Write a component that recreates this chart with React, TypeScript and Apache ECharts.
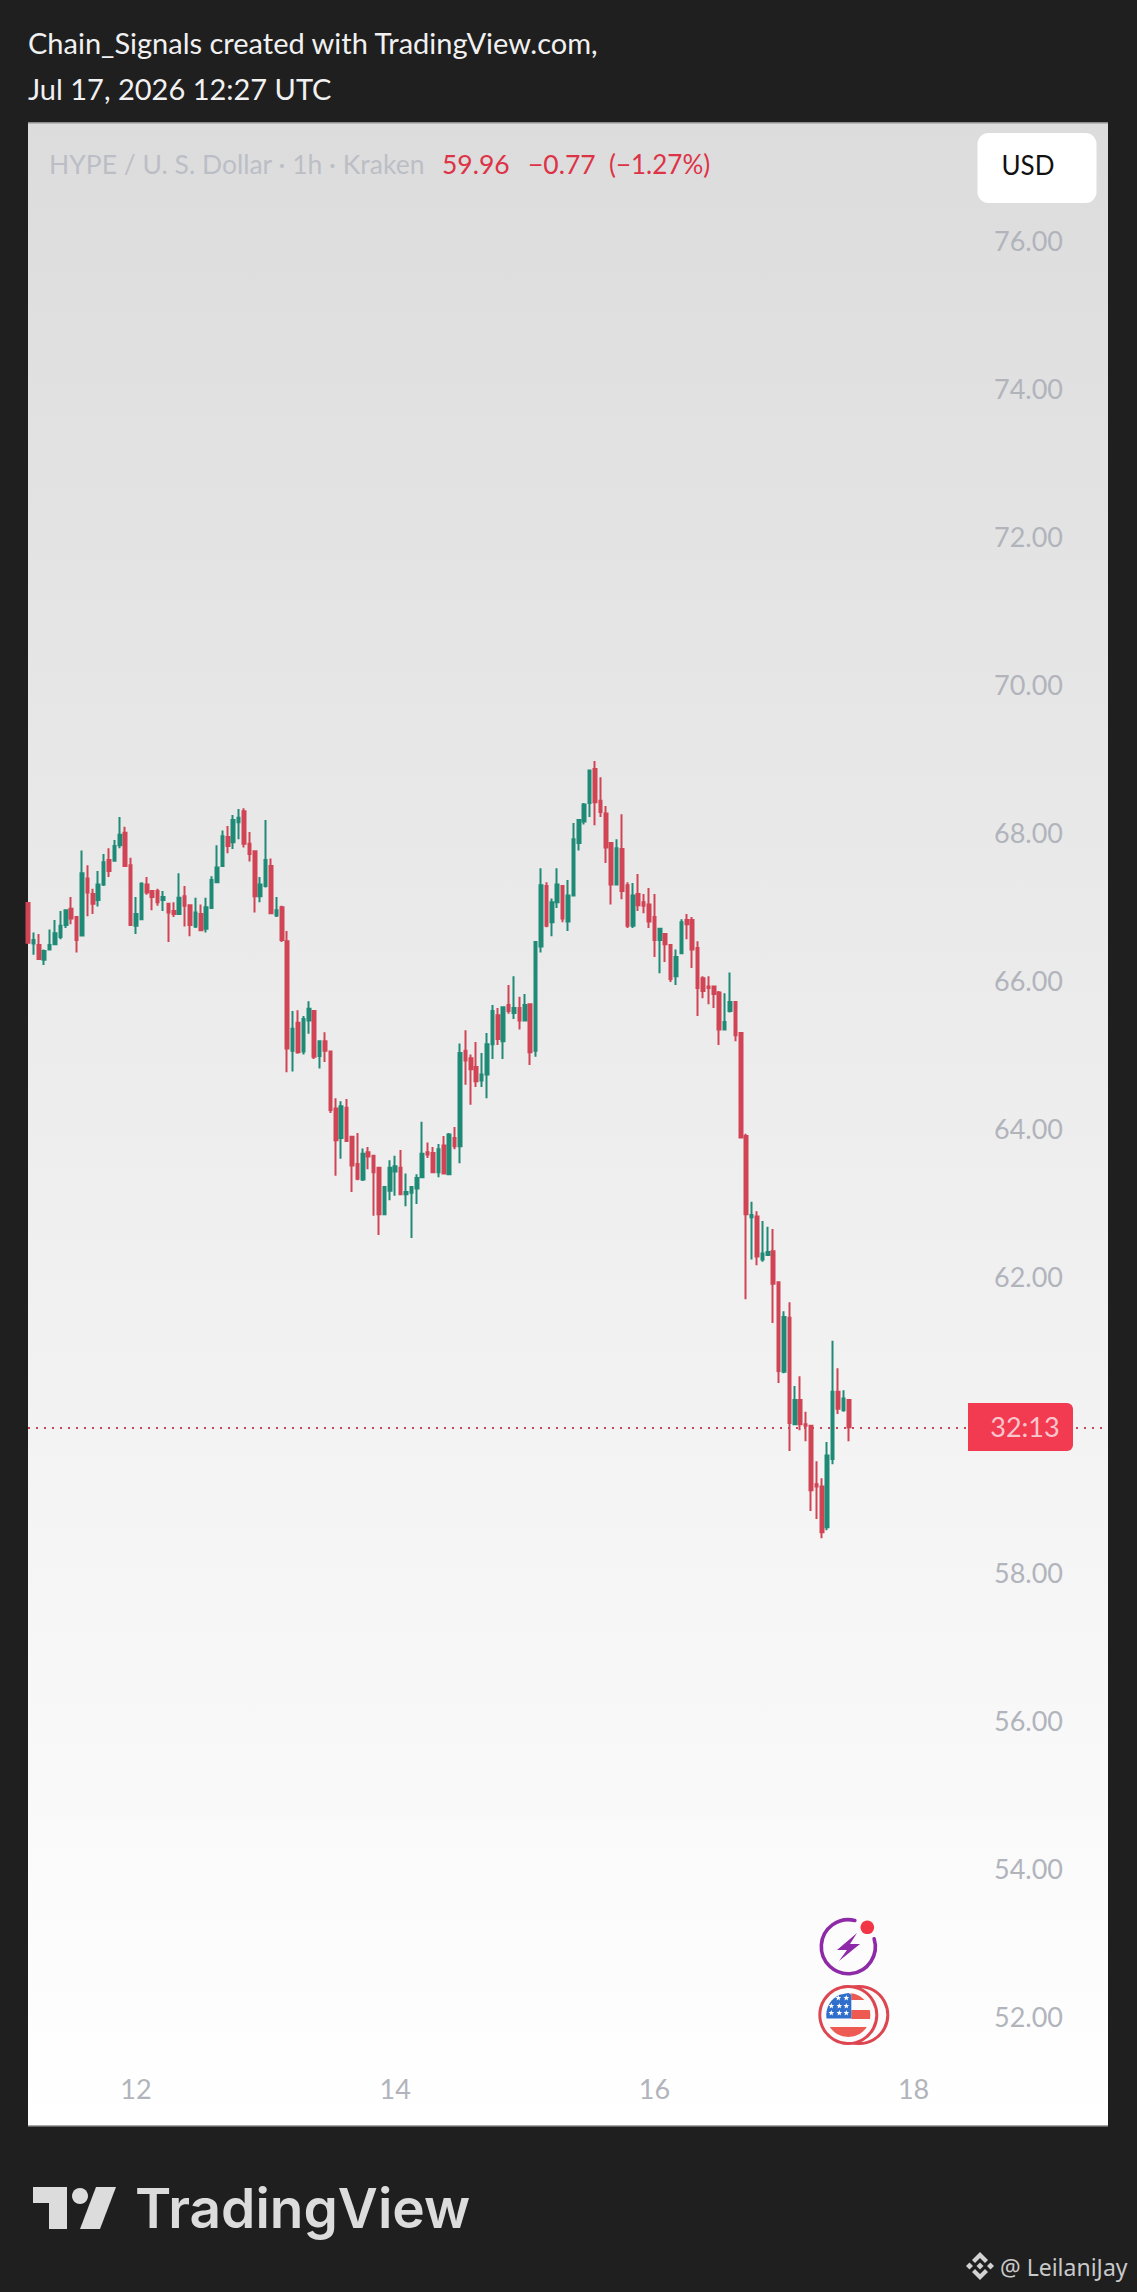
import React, { useEffect, useRef } from "react";
import * as echarts from "echarts";

const titleLines = ["Chain_Signals created with TradingView.com,", "Jul 17, 2026 12:27 UTC"];
const symbolText = "HYPE / U. S. Dollar · 1h · Kraken";
const lastPrice = 59.96;
const lastPriceText = "59.96";
const changeText = "−0.77";
const changePctText = "(−1.27%)";
const countdownText = "32:13";
const currencyText = "USD";
const brandText = "TradingView";
const creditText = "@ LeilaniJay";

const yMin = 50;
const yMax = 78;
const yStep = 2;
const slotCount = 201;
const dayTicks: Record<number, string> = { 20: "12", 68: "14", 116: "16", 164: "18" };

// open, close, low, high — hourly candles
const candles: number[][] = [
  [67.05,66.51,66.51,67.05],[66.50,66.55,66.35,66.65],[66.48,66.29,66.29,66.63],[66.28,66.40,66.21,66.42],
  [66.42,66.48,66.42,66.69],[66.49,66.64,66.49,66.82],[66.59,66.74,66.56,66.94],[66.75,66.95,66.71,66.95],
  [66.97,66.84,66.76,67.13],[66.86,66.55,66.38,66.87],[66.61,67.45,66.61,67.76],[67.38,67.19,66.87,67.56],
  [67.17,67.04,66.90,67.24],[67.09,67.30,67.00,67.48],[67.30,67.60,67.28,67.71],[67.63,67.48,67.40,67.79],
  [67.62,67.82,67.61,67.90],[67.83,67.97,67.79,68.21],[68.00,67.55,67.55,68.08],[67.56,66.75,66.75,67.66],
  [66.74,66.90,66.63,67.13],[66.83,67.31,66.83,67.33],[67.30,67.19,67.16,67.40],[67.21,67.13,66.95,67.21],
  [67.21,67.06,67.01,67.24],[67.09,67.13,66.94,67.21],[67.04,66.92,66.52,67.05],[66.94,66.90,66.86,67.06],
  [66.90,67.12,66.90,67.45],[67.14,67.01,66.73,67.28],[67.02,66.75,66.60,67.03],[66.73,66.92,66.71,67.12],
  [66.90,66.68,66.68,67.03],[66.70,66.99,66.65,67.12],[66.98,67.36,66.98,67.41],[67.33,67.53,67.33,67.83],
  [67.55,67.95,67.55,68.03],[67.94,67.82,67.72,68.09],[67.87,68.17,67.78,68.24],[68.14,68.20,67.91,68.32],
  [68.29,67.85,67.80,68.33],[67.85,67.71,67.61,68.01],[67.75,67.14,66.92,67.76],[67.14,67.30,67.06,67.40],
  [67.28,67.63,67.26,68.17],[67.55,66.91,66.91,67.65],[66.88,66.95,66.86,67.13],[66.99,66.55,66.52,67.01],
  [66.53,65.08,64.76,66.67],[65.05,65.35,64.77,65.59],[65.43,65.03,65.01,65.60],[65.04,65.48,65.00,65.52],
  [65.46,65.62,65.28,65.72],[65.59,64.97,64.94,65.59],[64.98,65.18,64.81,65.18],[65.18,65.05,64.90,65.30],
  [65.04,64.25,64.21,65.05],[64.27,63.84,63.36,64.41],[63.87,64.30,63.59,64.37],[64.28,63.83,63.83,64.40],
  [63.89,63.50,63.14,63.90],[63.52,63.32,63.30,63.94],[63.31,63.66,63.29,63.73],[63.68,63.62,63.45,63.75],
  [63.63,63.41,62.82,63.64],[63.47,62.84,62.56,63.48],[62.84,63.21,62.84,63.21],[63.16,63.47,63.03,63.57],
  [63.42,63.49,63.09,63.63],[63.47,63.11,63.11,63.71],[63.11,63.14,62.95,63.39],[63.13,63.21,62.52,63.22],
  [63.19,63.33,62.98,63.38],[63.34,63.66,63.34,64.09],[63.68,63.65,63.60,63.81],[63.67,63.41,63.41,63.75],
  [63.41,63.72,63.34,63.79],[63.77,63.39,63.39,63.90],[63.38,63.92,63.38,63.94],[63.87,63.76,63.72,64.02],
  [63.76,65.02,63.53,65.15],[65.05,64.92,64.59,65.33],[64.95,64.80,64.32,65.00],[64.83,64.64,64.56,65.17],
  [64.65,64.73,64.56,65.02],[64.73,65.14,64.41,65.29],[65.14,65.59,64.94,65.67],[65.53,65.21,65.13,65.63],
  [65.18,65.64,64.94,65.64],[65.67,65.59,65.55,65.94],[65.56,65.63,65.48,66.06],[65.63,65.46,65.34,65.78],
  [65.46,65.67,65.46,65.82],[65.68,65.03,64.86,65.68],[65.05,66.52,64.97,66.52],[66.46,67.29,66.38,67.52],
  [67.28,66.74,66.72,67.33],[66.79,67.06,66.60,67.11],[67.06,67.30,66.98,67.52],[67.28,66.84,66.79,67.29],
  [66.80,67.15,66.67,67.36],[67.15,67.91,67.15,68.13],[67.86,68.17,67.76,68.17],[68.15,68.38,68.11,68.40],
  [68.40,68.84,68.21,68.84],[68.86,68.41,68.10,68.97],[68.43,68.28,68.21,68.75],[68.26,67.80,67.59,68.36],
  [67.86,67.30,67.03,67.86],[67.30,67.79,67.30,67.91],[67.78,67.21,67.10,68.25],[67.29,66.74,66.71,67.33],
  [66.74,67.15,66.71,67.32],[67.17,67.02,66.94,67.44],[67.06,67.01,66.91,67.17],[67.03,66.80,66.71,67.25],
  [66.86,66.55,66.32,67.17],[66.55,66.70,66.10,66.71],[66.63,66.49,66.25,66.63],[66.48,66.02,65.98,66.49],
  [66.06,66.32,65.94,66.42],[66.37,66.79,66.37,66.83],[66.82,66.76,66.56,66.90],[66.82,66.42,66.17,66.86],
  [66.44,65.90,65.52,66.53],[66.03,65.86,65.76,66.06],[65.92,65.90,65.68,66.06],[65.92,65.82,65.63,65.92],
  [65.84,65.34,65.13,65.86],[65.34,65.44,65.34,65.83],[65.59,65.71,65.57,66.11],[65.71,65.26,65.18,65.72],
  [65.29,63.88,63.88,65.29],[63.90,62.84,61.69,63.93],[62.80,62.83,62.23,63.01],[62.81,62.27,62.15,62.88],
  [62.23,62.31,62.20,62.75],[62.29,62.33,62.29,62.67],[62.34,61.90,61.37,62.64],[61.92,60.72,60.56,61.92],
  [60.71,61.45,60.69,61.53],[61.44,60.02,59.64,61.65],[60.00,60.33,60.00,60.52],[60.33,60.00,59.92,60.65],
  [60.00,59.98,59.77,60.17],[59.98,59.11,58.83,59.98],[59.19,59.16,58.72,59.50],[59.16,58.54,58.46,59.27],
  [58.61,59.58,58.57,59.76],[59.53,60.44,59.46,61.13],[60.44,60.21,60.14,60.76],[60.19,60.35,60.17,60.46],
  [60.33,59.96,59.77,60.33],
];

const categories = Array.from({ length: slotCount }, (_, i) => dayTicks[i] ?? "");

const UP = "#1f8a76";
const DOWN = "#d04455";
const AXIS_TEXT = "#b2b4bc";
const FONT = "Lato";

function star(cx: number, cy: number, r: number) {
  const pts: number[][] = [];
  for (let i = 0; i < 10; i++) {
    const a = -Math.PI / 2 + (i * Math.PI) / 5;
    const rr = i % 2 ? r * 0.42 : r;
    pts.push([cx + rr * Math.cos(a), cy + rr * Math.sin(a)]);
  }
  return { type: "polygon", z: 60, shape: { points: pts }, style: { fill: "#ffffff" } };
}

function band(cx: number, cy: number, r: number, y1: number, y2: number, xLeft: number | null, xRight: number | null, fill: string) {
  const right: number[][] = [];
  const left: number[][] = [];
  const steps = 14;
  for (let i = 0; i <= steps; i++) {
    const y = y1 + ((y2 - y1) * i) / steps;
    const dy = Math.min(Math.abs(y - cy), r);
    const w = Math.sqrt(r * r - dy * dy);
    const xr = xRight === null ? cx + w : Math.min(xRight, cx + w);
    const xl = xLeft === null ? cx - w : Math.max(xLeft, cx - w);
    right.push([xr, y]);
    left.unshift([xl, y]);
  }
  return { type: "polygon", z: 55, shape: { points: [...right, ...left] }, style: { fill } };
}

function text(t: string, x: number, y: number, font: string, fill: string, align = "left", z = 50) {
  return { type: "text", z, style: { text: t, x, y, font, fill, align, verticalAlign: "middle" } };
}

function poly(points: number[][], fill: string, z = 50) {
  return { type: "polygon", z, shape: { points }, style: { fill } };
}

function offset(cx: number, cy: number, pts: number[][]) {
  return pts.map(([a, b]) => [cx + a, cy + b]);
}

const PANEL = { x: 28, y: 122, w: 1080, h: 2004 };
const fx = 848.3, fy = 2015;

const graphics: any[] = [
  {
    type: "rect", z: -10,
    shape: { x: PANEL.x, y: PANEL.y, width: PANEL.w, height: PANEL.h },
    style: {
      fill: new echarts.graphic.LinearGradient(0, 0, 0, 1, [
        { offset: 0, color: "#dcdcdc" },
        { offset: 1, color: "#ffffff" },
      ]),
    },
  },
  { type: "rect", z: -9, shape: { x: PANEL.x, y: PANEL.y, width: PANEL.w, height: 1.5 }, style: { fill: "#8f8f8f" } },
  { type: "rect", z: -9, shape: { x: PANEL.x, y: PANEL.y + PANEL.h - 1, width: PANEL.w, height: 1.5 }, style: { fill: "#a8a8a8" } },

  text(titleLines[0], 28, 42, `29px ${FONT}`, "#f1f1f1"),
  text(titleLines[1], 28, 88, `29px ${FONT}`, "#f1f1f1"),

  text(symbolText, 49, 164, `26.5px ${FONT}`, "#bcbec6"),
  text(lastPriceText, 442, 164, `26.5px ${FONT}`, "#dd3347"),
  text(changeText, 528, 164, `26.5px ${FONT}`, "#dd3347"),
  text(changePctText, 609, 164, `26px ${FONT}`, "#dd3347"),

  { type: "rect", z: 40, shape: { x: 977.5, y: 133, width: 119, height: 70, r: 11 }, style: { fill: "#ffffff" } },
  text(currencyText, 1028, 165, `26px ${FONT}`, "#111111", "center"),

  { type: "rect", z: 40, shape: { x: 968, y: 1403, width: 105, height: 48, r: [0, 6, 6, 0] }, style: { fill: "#f23a50" } },
  text(countdownText, 1025, 1426, `27px ${FONT}`, "#f9c6ce", "center"),

  // lightning badge
  {
    type: "arc", z: 50,
    shape: { cx: 848.3, cy: 1946.7, r: 27, startAngle: (-17 * Math.PI) / 180, endAngle: (284 * Math.PI) / 180, clockwise: true },
    style: { stroke: "#8e2aa8", lineWidth: 3.6, fill: "none", lineCap: "round" },
  },
  { type: "circle", z: 51, shape: { cx: 867.3, cy: 1927.3, r: 6.8 }, style: { fill: "#f23645" } },
  poly(offset(810, 1910, [[47, 23], [27, 40], [37, 40], [29, 51], [50, 34], [40, 34]]), "#8e2aa8"),

  // flag badge
  { type: "circle", z: 50, shape: { cx: 859.3, cy: fy, r: 28.5 }, style: { fill: "#fbfbfb", stroke: "#dd4650", lineWidth: 3 } },
  { type: "circle", z: 52, shape: { cx: fx, cy: fy, r: 28.5 }, style: { fill: "#fbfbfb", stroke: "#dd4650", lineWidth: 3 } },
  band(fx, fy, 22, fy - 22, fy - 15, fx + 3, null, "#ec5a52"),
  band(fx, fy, 22, fy - 5, fy + 4, fx + 3, null, "#ec5a52"),
  band(fx, fy, 22, fy + 12, fy + 22, null, null, "#ec5a52"),
  band(fx, fy, 22, fy - 22, fy + 3.5, null, fx + 3, "#2f6fcb"),
  star(fx - 10, fy - 17, 3), star(fx - 2, fy - 17, 3),
  star(fx - 17, fy - 9, 3), star(fx - 9, fy - 9, 3), star(fx - 2, fy - 9, 3),
  star(fx - 17, fy - 2, 3), star(fx - 9, fy - 2, 3), star(fx - 2, fy - 2, 3),

  // TradingView mark
  poly([[33, 2187], [67, 2187], [67, 2229], [49, 2229], [49, 2203], [33, 2203]], "#dcdcdc"),
  { type: "circle", z: 50, shape: { cx: 80, cy: 2196, r: 8 }, style: { fill: "#dcdcdc" } },
  poly([[96, 2187], [116, 2187], [100, 2229], [80, 2229]], "#dcdcdc"),
  text(brandText, 135, 2208, `600 55px Inter`, "#dcdcdc"),

  // credit
  poly(offset(980, 2266, [[0, -14], [8, -6], [5, -3], [0, -8], [-5, -3], [-8, -6]]), "#d2d2d2"),
  poly(offset(980, 2266, [[0, 14], [8, 6], [5, 3], [0, 8], [-5, 3], [-8, 6]]), "#d2d2d2"),
  poly(offset(980, 2266, [[-14, 0], [-10.5, -3.5], [-7, 0], [-10.5, 3.5]]), "#d2d2d2"),
  poly(offset(980, 2266, [[14, 0], [10.5, -3.5], [7, 0], [10.5, 3.5]]), "#d2d2d2"),
  poly(offset(980, 2266, [[0, -3.5], [3.5, 0], [0, 3.5], [-3.5, 0]]), "#d2d2d2"),
  text(creditText, 1000, 2267, `23px "Noto Sans"`, "#c9c9c9"),
];

export default function App() {
  const ref = useRef<HTMLDivElement>(null);
  useEffect(() => {
    document.body.style.margin = "0";
    document.body.style.background = "#1f1f1f";
    const chart = echarts.init(ref.current!, undefined, { renderer: "svg" });
    chart.setOption({
      animation: false,
      backgroundColor: "#1f1f1f",
      grid: { left: PANEL.x, top: 93, width: PANEL.w, height: 2071, containLabel: false },
      xAxis: {
        type: "category",
        data: categories,
        boundaryGap: false,
        axisLine: { show: false },
        axisTick: { show: false },
        splitLine: { show: false },
        axisLabel: {
          inside: true,
          interval: 0,
          margin: 62,
          color: AXIS_TEXT,
          fontFamily: FONT,
          fontSize: 27,
          hideOverlap: false,
        },
      },
      yAxis: {
        type: "value",
        min: yMin,
        max: yMax,
        interval: yStep,
        position: "right",
        axisLine: { show: false },
        axisTick: { show: false },
        splitLine: { show: false },
        axisLabel: {
          inside: true,
          margin: 45,
          color: AXIS_TEXT,
          fontFamily: FONT,
          fontSize: 27,
          padding: [0, 0, 3, 0],
          showMinLabel: false,
          showMaxLabel: false,
          formatter: (v: number) => v.toFixed(2),
        },
      },
      graphic: { elements: graphics },
      series: [
        {
          type: "candlestick",
          data: candles,
          barWidth: 3,
          itemStyle: { color: UP, color0: DOWN, borderColor: UP, borderColor0: DOWN, borderWidth: 2 },
          markLine: {
            silent: true,
            symbol: "none",
            animation: false,
            label: { show: false },
            lineStyle: { color: "#c94656", type: [2, 6], width: 2 },
            data: [{ yAxis: lastPrice }],
          },
        },
      ],
    });
    return () => chart.dispose();
  }, []);
  return <div ref={ref} style={{ position: "absolute", left: 0, top: 0, width: 1137, height: 2292 }} />;
}
